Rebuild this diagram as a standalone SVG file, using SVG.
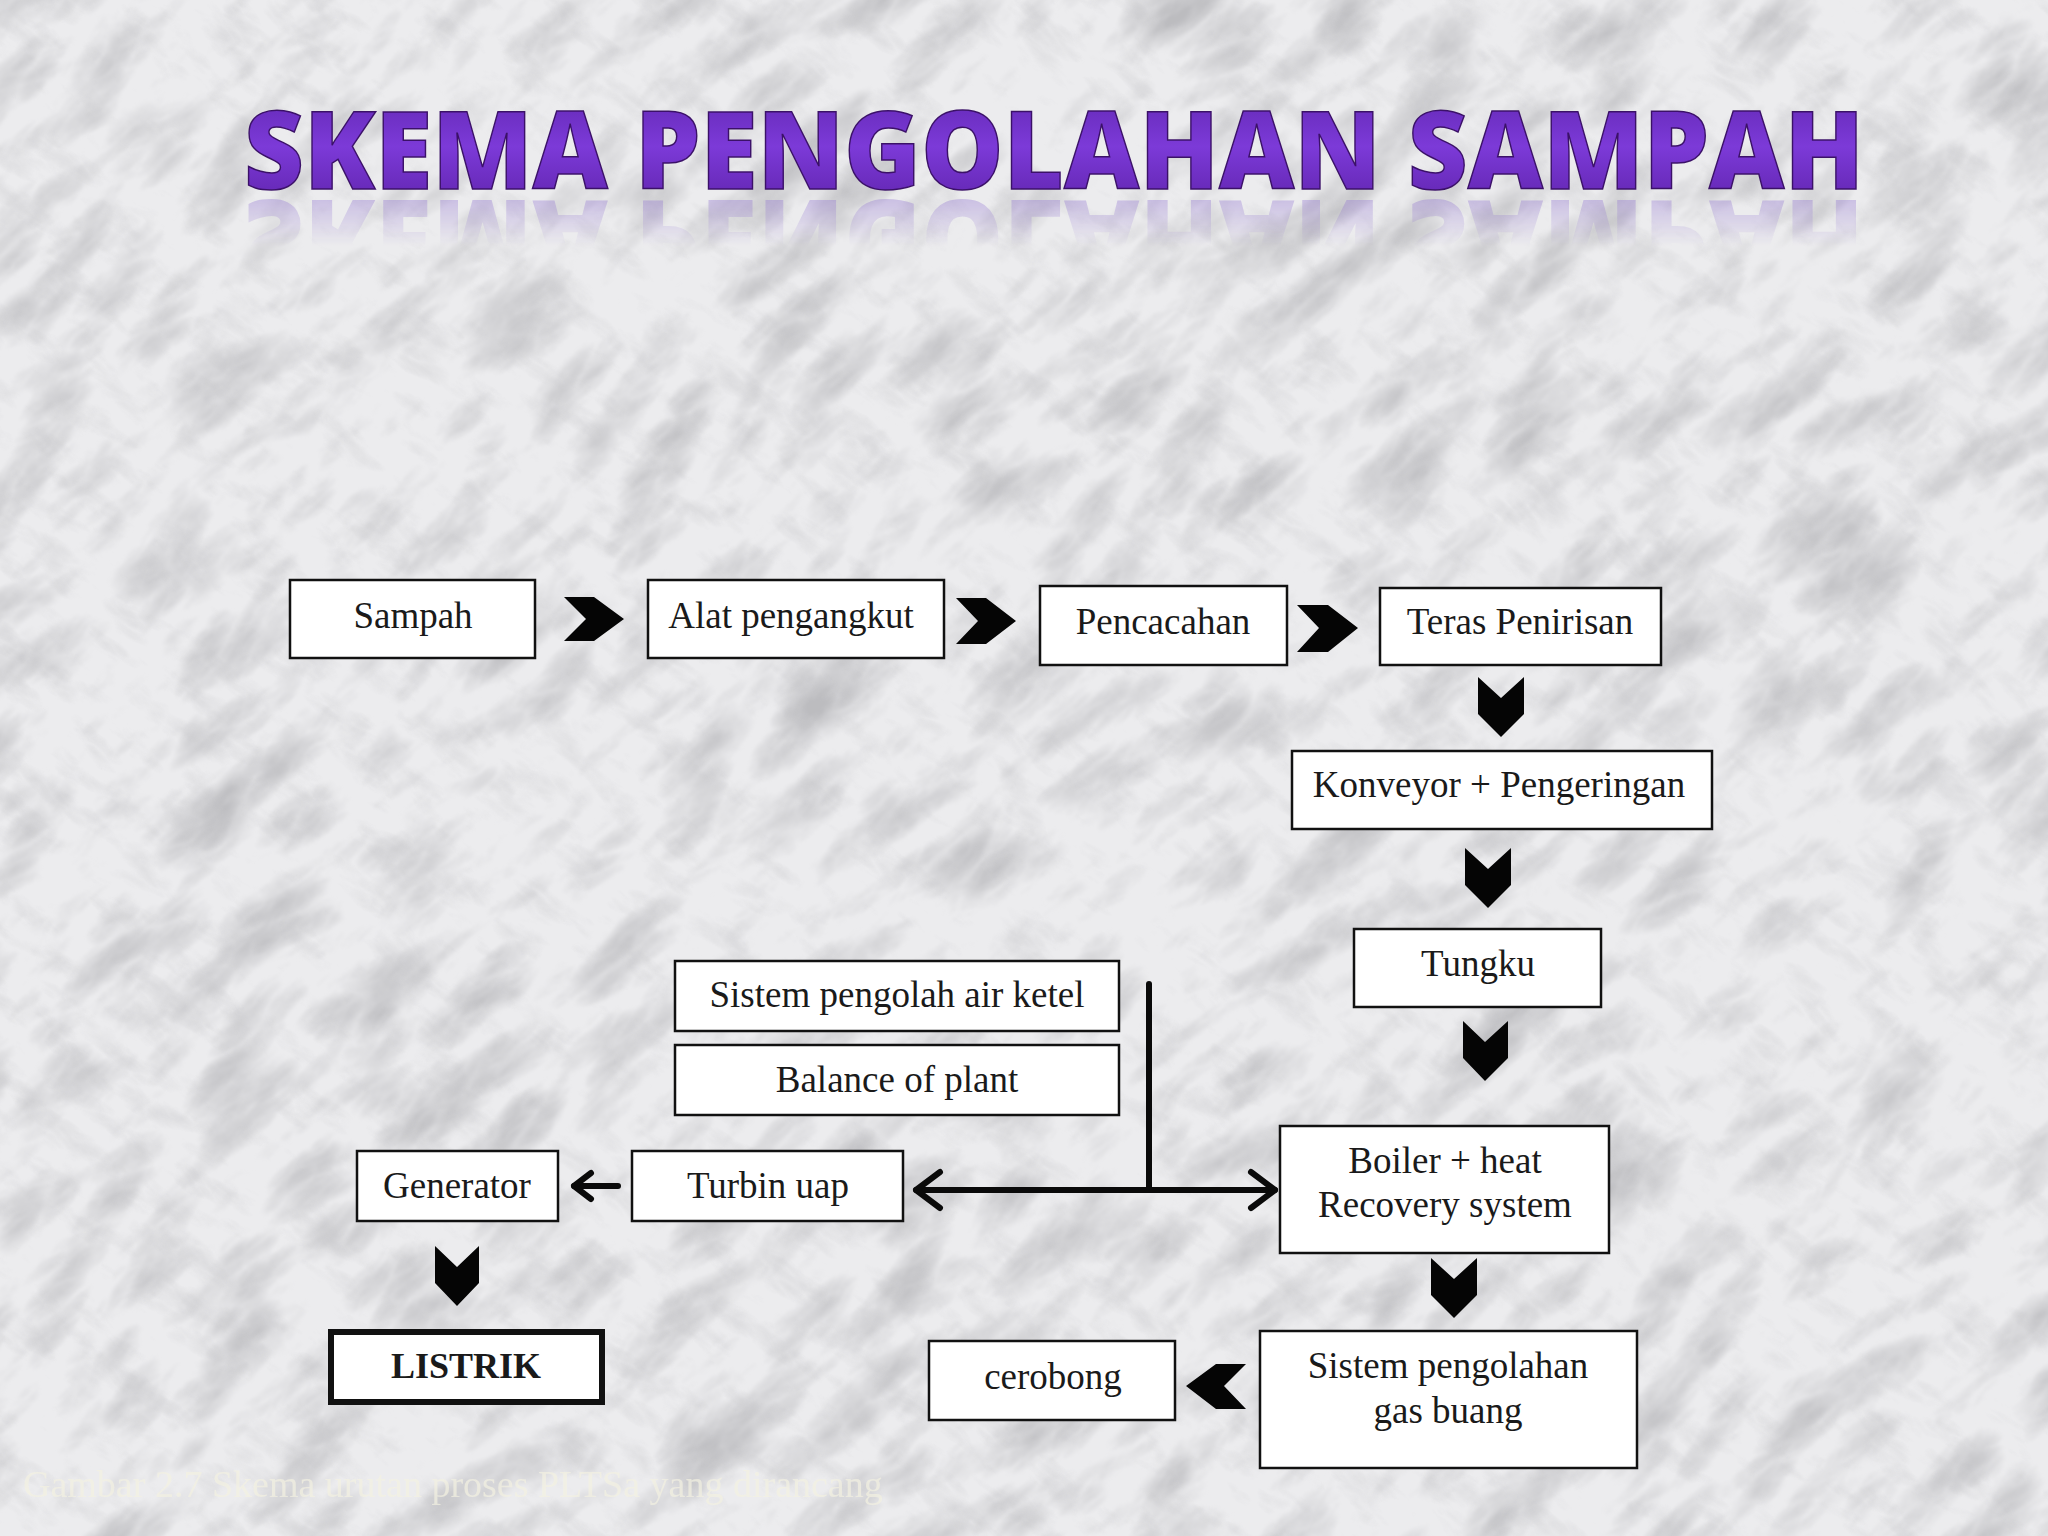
<svg xmlns="http://www.w3.org/2000/svg" width="2048" height="1536" viewBox="0 0 2048 1536">
<defs>
<style>
.box{fill:#ffffff;stroke:#111111;stroke-width:2.5}
.thick{fill:#ffffff;stroke:#111111;stroke-width:6}
.t{font-family:"Liberation Serif","Times New Roman",serif;font-size:37px;fill:#1a1a1a;text-anchor:middle}
.tb{font-family:"Liberation Serif","Times New Roman",serif;font-size:36px;font-weight:bold;fill:#1a1a1a;text-anchor:middle}
.chev{fill:#050505}
.ln{fill:none;stroke:#0a0a0a;stroke-width:6;stroke-linecap:round;stroke-linejoin:round}
.ttl{font-family:"Open Sans","Lato",sans-serif;font-weight:800;font-size:109px}
</style>
<linearGradient id="pg" x1="0" y1="0" x2="0" y2="1">
<stop offset="0" stop-color="#5a22a8"/>
<stop offset="0.5" stop-color="#7c3ad8"/>
<stop offset="1" stop-color="#5a1fa4"/>
</linearGradient>
<linearGradient id="fade" x1="0" y1="0" x2="0" y2="1">
<stop offset="0" stop-color="#ffffff" stop-opacity="0.35"/>
<stop offset="1" stop-color="#ffffff" stop-opacity="0"/>
</linearGradient>
<mask id="rm" maskUnits="userSpaceOnUse" x="0" y="196" width="2048" height="60">
<rect x="0" y="198" width="2048" height="48" fill="url(#fade)"/>
</mask>
<filter id="marble" x="0" y="0" width="1" height="1" filterUnits="objectBoundingBox">
<feTurbulence type="turbulence" baseFrequency="0.007 0.016" numOctaves="5" seed="11" result="n"/>
<feColorMatrix in="n" type="matrix" values="0 0 0 0 0.5  0 0 0 0 0.5  0 0 0 0 0.52  1.5 0 0 0 -0.38" result="v"/>
<feGaussianBlur in="v" stdDeviation="0.8"/>
</filter>
<filter id="marble2" x="0" y="0" width="1" height="1" filterUnits="objectBoundingBox">
<feTurbulence type="turbulence" baseFrequency="0.012 0.03" numOctaves="4" seed="3" result="n"/>
<feColorMatrix in="n" type="matrix" values="0 0 0 0 0.55  0 0 0 0 0.55  0 0 0 0 0.57  1.2 0 0 0 -0.4"/>
</filter>
</defs>
<rect x="0" y="0" width="2048" height="1536" fill="#ececee"/>
<g transform="rotate(-40 1024 768)">
<rect x="-600" y="-600" width="3248" height="2736" fill="#000" filter="url(#marble)"/>
</g>
<g transform="rotate(35 1024 768)">
<rect x="-600" y="-600" width="3248" height="2736" fill="#000" filter="url(#marble2)" opacity="0.6"/>
</g>
<g id="title">
<text class="ttl" x="244" y="189" textLength="1620" lengthAdjust="spacingAndGlyphs" fill="url(#pg)" stroke="#3b1168" stroke-width="1.5">SKEMA PENGOLAHAN SAMPAH</text>
<g mask="url(#rm)">
<text class="ttl" x="244" y="-200" transform="scale(1,-1)" textLength="1620" lengthAdjust="spacingAndGlyphs" fill="#8a6ad0">SKEMA PENGOLAHAN SAMPAH</text>
</g>
</g>
<g id="connectors">
<path class="chev" d="M564,597 L594,597 L624,619 L594,641 L564,641 L586,619 Z"/>
<path class="chev" d="M956,598 L986,598 L1016,621 L986,644 L956,644 L978,621 Z"/>
<path class="chev" d="M1297,605 L1328,605 L1358,628 L1328,652 L1297,652 L1319,628 Z"/>
<path class="chev" d="M1478,677 L1501,698 L1524,677 L1524,714 L1501,737 L1478,714 Z"/>
<path class="chev" d="M1465,848 L1488,869 L1511,848 L1511,885 L1488,908 L1465,885 Z"/>
<path class="chev" d="M1463,1021 L1485,1042 L1508,1021 L1508,1058 L1485,1081 L1463,1058 Z"/>
<path class="chev" d="M1431,1258 L1454,1279 L1477,1258 L1477,1295 L1454,1318 L1431,1295 Z"/>
<path class="chev" d="M435,1246 L457,1267 L479,1246 L479,1283 L457,1306 L435,1283 Z"/>
<path class="chev" d="M1246,1364 L1216,1364 L1186,1386 L1216,1409 L1246,1409 L1224,1386 Z"/>
<path class="ln" d="M1149,984 L1149,1190"/>
<path class="ln" d="M916,1190 L1275,1190"/>
<path class="ln" d="M940,1172 L916,1190 L940,1208"/>
<path class="ln" d="M1251,1172 L1275,1190 L1251,1208"/>
<path class="ln" d="M574,1186 L618,1186" stroke-width="5"/>
<path class="ln" d="M591,1173 L574,1186 L591,1199" stroke-width="5"/>
</g>
<g id="n-sampah"><rect class="box" x="290" y="580" width="245" height="78"/><text class="t" x="413" y="628">Sampah</text></g>
<g id="n-alat"><rect class="box" x="648" y="580" width="296" height="78"/><text class="t" x="791" y="628">Alat pengangkut</text></g>
<g id="n-pencacahan"><rect class="box" x="1040" y="586" width="247" height="79"/><text class="t" x="1163" y="634">Pencacahan</text></g>
<g id="n-teras"><rect class="box" x="1380" y="588" width="281" height="77"/><text class="t" x="1520" y="634">Teras Penirisan</text></g>
<g id="n-konveyor"><rect class="box" x="1292" y="751" width="420" height="78"/><text class="t" x="1499" y="797">Konveyor + Pengeringan</text></g>
<g id="n-tungku"><rect class="box" x="1354" y="929" width="247" height="78"/><text class="t" x="1478" y="976">Tungku</text></g>
<g id="n-air-ketel"><rect class="box" x="675" y="961" width="444" height="70"/><text class="t" x="897" y="1007">Sistem pengolah air ketel</text></g>
<g id="n-bop"><rect class="box" x="675" y="1045" width="444" height="70"/><text class="t" x="897" y="1092">Balance of plant</text></g>
<g id="n-generator"><rect class="box" x="357" y="1151" width="201" height="70"/><text class="t" x="457" y="1198">Generator</text></g>
<g id="n-turbin"><rect class="box" x="632" y="1151" width="271" height="70"/><text class="t" x="768" y="1198">Turbin uap</text></g>
<g id="n-boiler"><rect class="box" x="1280" y="1126" width="329" height="127"/><text class="t" x="1445" y="1173">Boiler + heat</text><text class="t" x="1445" y="1217">Recovery system</text></g>
<g id="n-listrik"><rect class="thick" x="331" y="1332" width="271" height="70"/><text class="tb" x="466" y="1378">LISTRIK</text></g>
<g id="n-cerobong"><rect class="box" x="929" y="1341" width="246" height="79"/><text class="t" x="1053" y="1389">cerobong</text></g>
<g id="n-gas"><rect class="box" x="1260" y="1331" width="377" height="137"/><text class="t" x="1448" y="1378">Sistem pengolahan</text><text class="t" x="1448" y="1423">gas buang</text></g>
<text x="23" y="1497" font-family="Liberation Serif, serif" font-size="38" fill="#f4f2e2" opacity="0.7">Gambar 2.7 Skema urutan proses PLTSa yang dirancang</text>
</svg>
